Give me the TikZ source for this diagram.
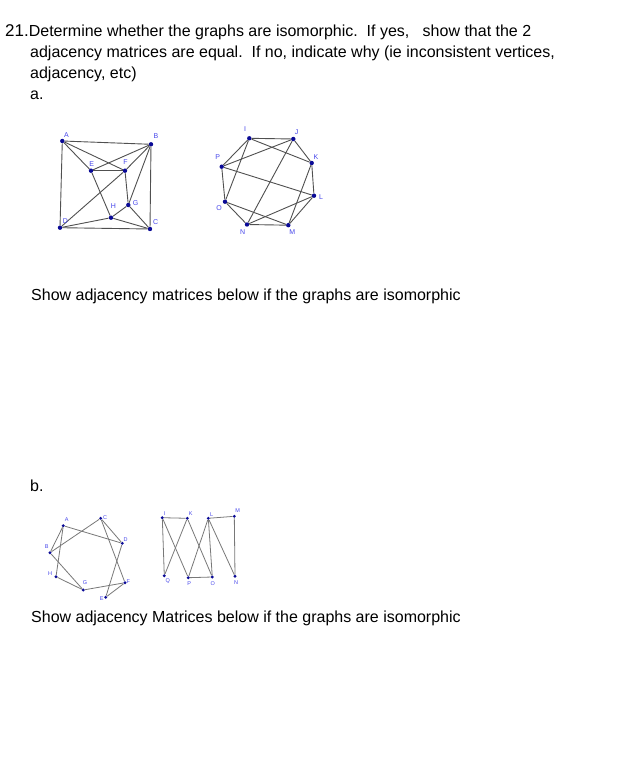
\documentclass[tikz,border=0pt]{standalone}
\usepackage{fontspec}
\setmainfont{Liberation Sans}
\definecolor{dotblue}{RGB}{10,10,150}
\definecolor{lblblue}{RGB}{70,70,235}
\definecolor{edgegray}{RGB}{80,80,80}
\definecolor{edgegrayb}{RGB}{120,120,120}
\tikzset{
  maintext/.style={anchor=base west,inner sep=0pt,font=\fontsize{16}{19}\selectfont},
  dota/.style={circle,fill=dotblue,inner sep=0pt,minimum size=4.4pt},
  dotb/.style={circle,fill=dotblue,inner sep=0pt,minimum size=3.2pt},
  lbla/.style={text=lblblue,inner sep=0pt,font=\fontsize{7}{7}\selectfont},
  lblb/.style={text=lblblue,inner sep=0pt,font=\fontsize{5.5}{6}\selectfont},
  edgea/.style={draw=edgegray,line width=0.9pt},
  edgeb/.style={draw=edgegrayb,line width=0.8pt},
}
\begin{document}
\begin{tikzpicture}[x=1pt,y=-1pt]
\useasboundingbox[fill=white] (0,0) rectangle (624,783);
% ---- text ----
\node[maintext] (t1) at (5,37) {{\fontsize{17}{19}\selectfont 21.}Determine whether the graphs are isomorphic.\ \ If yes,\ \ \ show that the 2};
\node[maintext] (t2) at (30,58) {adjacency matrices are equal.\ \ If no, indicate why (ie inconsistent vertices,};
\node[maintext] (t3) at (30,79) {adjacency, etc)};
\node[maintext] (t4) at (30,100) {a.};
\node[maintext] (t5) at (31,300) {Show adjacency matrices below if the graphs are isomorphic};
\node[maintext] (t6) at (30,491) {b.};
\node[maintext] (t7) at (31,622) {Show adjacency Matrices below if the graphs are isomorphic};
% ---- graph a, left ----
\foreach \n/\x/\y in {A/62.3/141,B/151/144.3,E/91/170.7,F/125/170.7,G/128.3/205,H/111/217.7,D/60/227.7,C/150/229}
  \node[dota] (a\n) at (\x,\y) {};
\foreach \u/\v in {A/B,A/D,A/E,A/F,B/E,B/F,B/G,B/C,E/F,E/H,F/G,F/D,G/H,G/C,H/D,H/C,D/C}
  \draw[edgea] (a\u) -- (a\v);
\foreach \n/\x/\y in {A/66.5/135,B/156/136.5,E/91.7/164,F/125.5/161.7,G/135.7/203.3,H/113.3/206,D/65.5/221.5,C/155.7/222.3}
  \node[lbla] (la\n) at (\x,\y) {\n};
% ---- graph a, right ----
\foreach \n/\x/\y in {I/249.3/138.3,J/293.3/139,K/311.7/163,L/314/195.7,M/288.3/225.2,N/247/224.5,O/225/201.7,P/221.7/166.7}
  \node[dota] (b\n) at (\x,\y) {};
\foreach \u/\v in {I/J,I/K,I/P,I/O,J/P,J/K,J/N,K/L,K/M,L/M,L/N,L/P,M/N,M/O,N/O,O/P}
  \draw[edgea] (b\u) -- (b\v);
\foreach \n/\x/\y in {I/245/129.3,J/296.7/131.7,K/316/156.7,L/321/196.7,M/292.3/231.7,N/242.7/231.7,O/219/207.7,P/217.7/156.7}
  \node[lbla] (lb\n) at (\x,\y) {\n};
% ---- graph b, left ----
\foreach \n/\x/\y in {A/63.3/525.7,C/100.7/518.3,D/122.3/543.3,B/50/552.7,H/56/576.7,G/83.3/590,F/125/582.7,E/105.7/597.3}
  \node[dotb] (c\n) at (\x,\y) {};
\foreach \u/\v in {A/B,A/H,A/D,B/C,B/G,C/D,C/F,D/E,E/F,G/F,H/G}
  \draw[edgeb] (c\u) -- (c\v);
\foreach \n/\x/\y in {A/66.7/520,C/105/517.3,D/125.7/539.3,B/46.7/546.7,H/50/573.3,G/85/582.7,F/128.3/581.7,E/101.7/598.3}
  \node[lblb] (lc\n) at (\x,\y) {\n};
% ---- graph b, right ----
\foreach \n/\x/\y in {I/162.3/517.7,K/187.3/518.3,L/208.3/518.3,M/234.3/516.3,Q/164.3/575.7,P/188.3/577.7,O/212.3/577,N/235/576.3}
  \node[dotb] (d\n) at (\x,\y) {};
\foreach \u/\v in {I/K,I/Q,I/P,K/Q,K/O,L/M,L/P,L/O,L/N,M/N,P/O}
  \draw[edgeb] (d\u) -- (d\v);
\foreach \n/\x/\y in {I/164.3/513.3,K/190.7/513.3,L/211.7/514.3,M/237.7/511,Q/167.7/581,P/189.3/583.3,O/212.7/584,N/236/582.3}
  \node[lblb] (ld\n) at (\x,\y) {\n};
\end{tikzpicture}
\end{document}
